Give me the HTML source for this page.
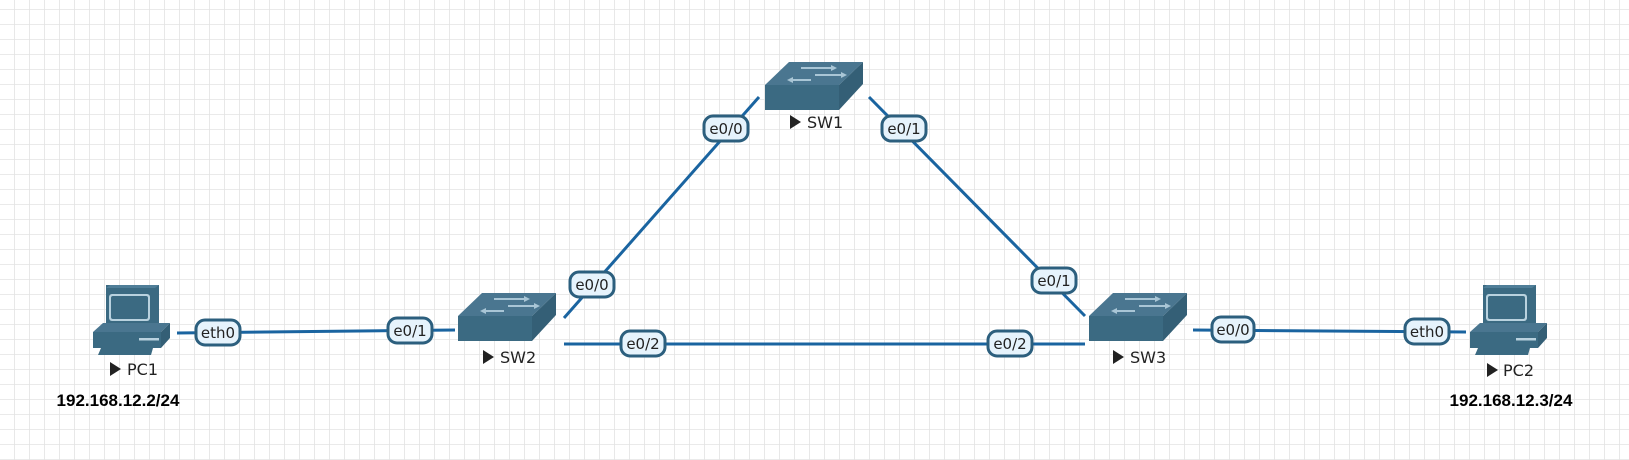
<!DOCTYPE html>
<html><head><meta charset="utf-8"><style>
html,body{margin:0;padding:0;background:#fff}
svg{display:block}
text{font-family:"DejaVu Sans","Liberation Sans",sans-serif}
</style></head><body>
<svg width="1629" height="460" viewBox="0 0 1629 460" xmlns="http://www.w3.org/2000/svg">
<defs>
<pattern id="g" x="14" y="9" width="15" height="15" patternUnits="userSpaceOnUse">
<path d="M0 0H15M0 0V15" stroke="#e3e3e3" stroke-width="1.6" fill="none"/>
</pattern>
<g id="sw">
<polygon points="0,23 24,0 98,0 74,23" fill="#4a7690"/>
<rect x="0" y="23" width="74" height="25" fill="#3b6a82"/>
<polygon points="74,23 98,0 98,22 74,48" fill="#345f76"/>
<g stroke="#a9c6d6" stroke-width="2" fill="#a9c6d6">
<line x1="36" y1="6" x2="70" y2="6"/><polygon points="72,6 66,3 66,9" stroke="none"/>
<line x1="26" y1="18" x2="46" y2="18"/><polygon points="22,18 28,15 28,21" stroke="none"/>
<line x1="50" y1="13" x2="80" y2="13"/><polygon points="82,13 76,10 76,16" stroke="none"/>
</g>
</g>
<g id="pc">
<polygon points="13,0 66,0 66,38 13,38" fill="#3b6a82"/>
<polygon points="13,3 17,0 66,0 62,3" fill="#4f7e98"/>
<rect x="16" y="9" width="41" height="27" rx="3" fill="#b9d2df"/>
<rect x="18" y="11" width="37" height="23" rx="2" fill="#3b6a82"/>
<polygon points="10,38 77,38 68,47 0,47" fill="#4a7690"/>
<rect x="0" y="47" width="68" height="16" fill="#3b6a82"/>
<polygon points="68,47 77,38 77,53 68,63" fill="#345f76"/>
<rect x="46" y="53" width="20" height="2.5" fill="#b9d2df"/>
<polygon points="8,63 60,63 58,70 5,70" fill="#3b6a82"/>
</g>
</defs>
<rect width="1629" height="460" fill="#fff"/>
<rect width="1629" height="460" fill="url(#g)"/>
<g stroke="#1a64a0" stroke-width="3" fill="none">
<line x1="177" y1="333" x2="455" y2="330"/>
<line x1="564" y1="318" x2="759" y2="97"/>
<line x1="869" y1="97" x2="1085" y2="316"/>
<line x1="564" y1="344" x2="1085" y2="344"/>
<line x1="1193" y1="330" x2="1466" y2="332"/>
</g>
<use href="#sw" x="765" y="62"/>
<use href="#sw" x="458" y="293"/>
<use href="#sw" x="1089" y="293"/>
<use href="#pc" x="93" y="285"/>
<use href="#pc" x="1470" y="285"/>
<g font-size="16" fill="#222">
<polygon points="790,115 790,129 801,122" fill="#222"/><text x="807" y="128">SW1</text>
<polygon points="483,350 483,364 494,357" fill="#222"/><text x="500" y="363">SW2</text>
<polygon points="1113,350 1113,364 1124,357" fill="#222"/><text x="1130" y="363">SW3</text>
<polygon points="110,362 110,376 121,369" fill="#222"/><text x="127" y="375">PC1</text>
<polygon points="1487,363 1487,377 1498,370" fill="#222"/><text x="1503" y="376">PC2</text>
</g>
<g fill="#000" text-anchor="middle">
<text x="118" y="406" style="font-family:'Liberation Sans',sans-serif;font-size:17px;font-weight:bold">192.168.12.2/24</text>
<text x="1511" y="406" style="font-family:'Liberation Sans',sans-serif;font-size:17px;font-weight:bold">192.168.12.3/24</text>
</g>
<g font-size="15" fill="#222" text-anchor="middle">
<g><rect x="196" y="320" width="44" height="25" rx="9" fill="#e6f3fc" stroke="#2c5f7e" stroke-width="3"/><text x="218" y="338">eth0</text></g>
<g><rect x="388" y="318" width="44" height="25" rx="9" fill="#e6f3fc" stroke="#2c5f7e" stroke-width="3"/><text x="410" y="336">e0/1</text></g>
<g><rect x="570" y="272" width="44" height="25" rx="9" fill="#e6f3fc" stroke="#2c5f7e" stroke-width="3"/><text x="592" y="290">e0/0</text></g>
<g><rect x="704" y="116" width="44" height="25" rx="9" fill="#e6f3fc" stroke="#2c5f7e" stroke-width="3"/><text x="726" y="134">e0/0</text></g>
<g><rect x="882" y="116" width="44" height="25" rx="9" fill="#e6f3fc" stroke="#2c5f7e" stroke-width="3"/><text x="904" y="134">e0/1</text></g>
<g><rect x="1032" y="268" width="44" height="25" rx="9" fill="#e6f3fc" stroke="#2c5f7e" stroke-width="3"/><text x="1054" y="286">e0/1</text></g>
<g><rect x="621" y="331" width="44" height="25" rx="9" fill="#e6f3fc" stroke="#2c5f7e" stroke-width="3"/><text x="643" y="349">e0/2</text></g>
<g><rect x="988" y="331" width="44" height="25" rx="9" fill="#e6f3fc" stroke="#2c5f7e" stroke-width="3"/><text x="1010" y="349">e0/2</text></g>
<g><rect x="1212" y="317" width="42" height="25" rx="9" fill="#e6f3fc" stroke="#2c5f7e" stroke-width="3"/><text x="1233" y="335">e0/0</text></g>
<g><rect x="1405" y="319" width="44" height="25" rx="9" fill="#e6f3fc" stroke="#2c5f7e" stroke-width="3"/><text x="1427" y="337">eth0</text></g>
</g>
</svg>
</body></html>
